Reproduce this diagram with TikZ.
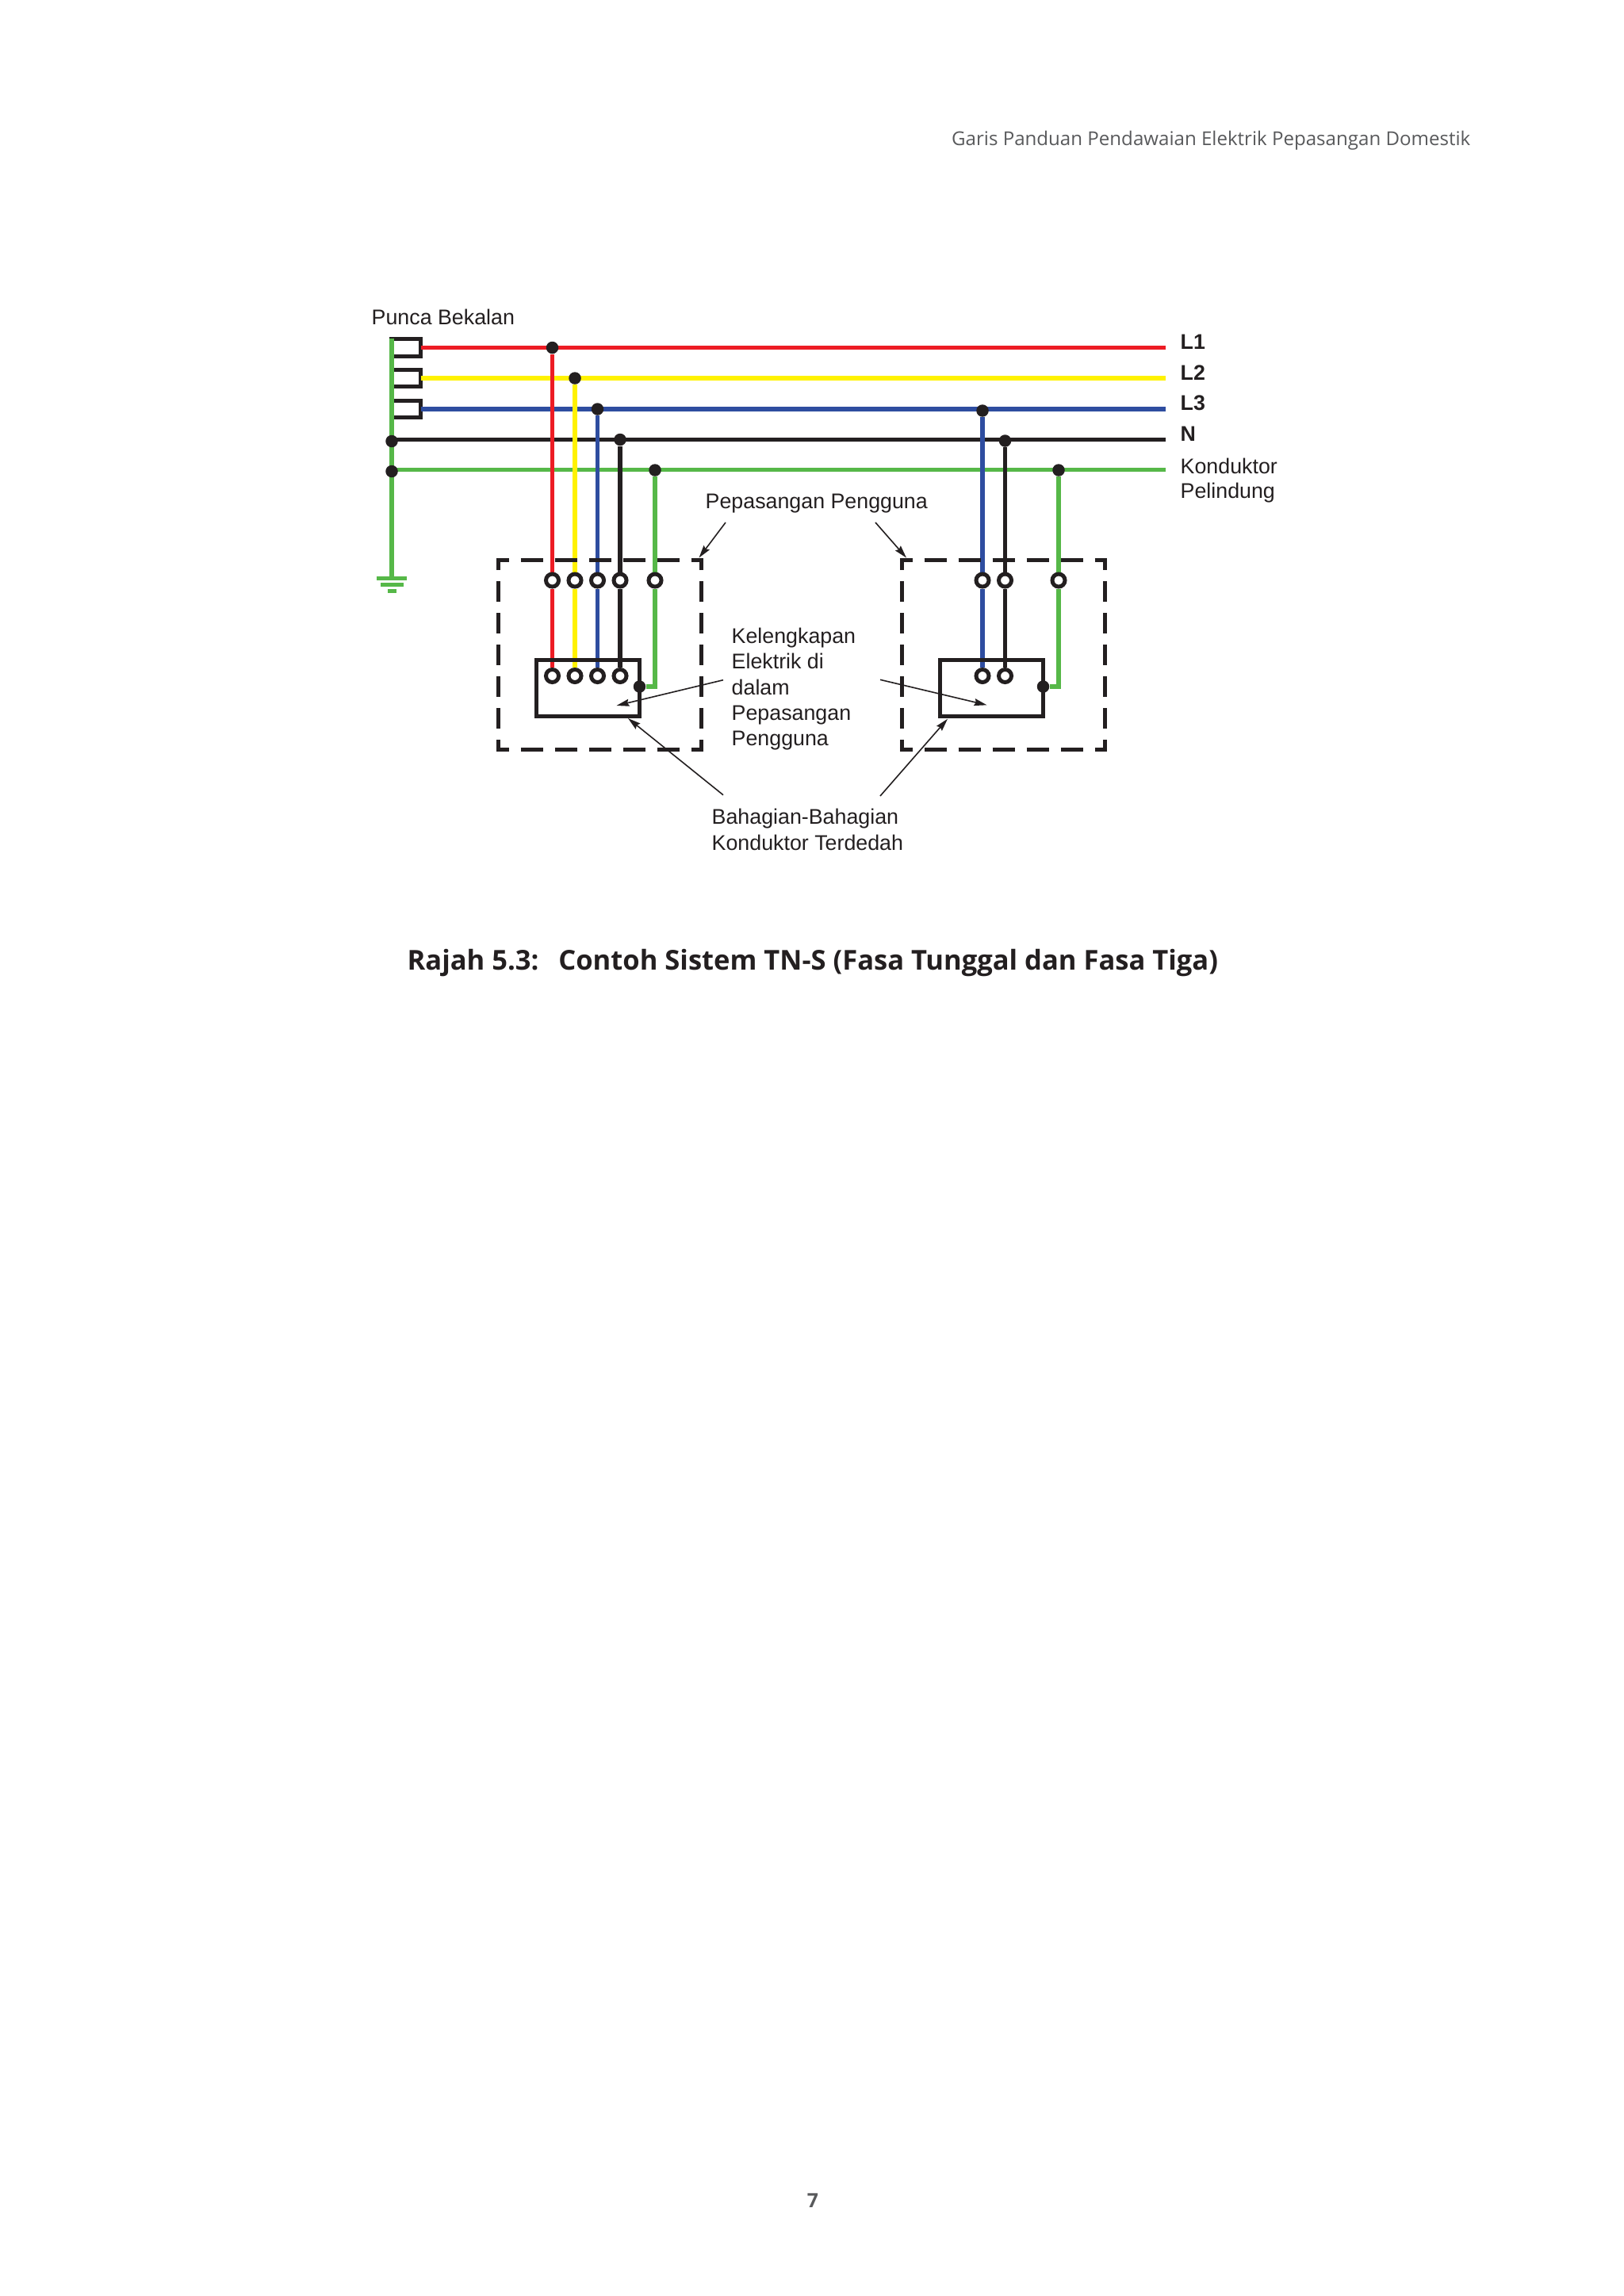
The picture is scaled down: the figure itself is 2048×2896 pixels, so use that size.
\documentclass[tikz,border=0pt]{standalone}
\usepackage{fontspec}
\setmainfont{Liberation Sans}
\newfontfamily\pagefont{Open Sans}
\usetikzlibrary{arrows.meta,backgrounds}
\definecolor{wirered}{HTML}{ED1C24}
\definecolor{wireyellow}{HTML}{FFF200}
\definecolor{wireblue}{HTML}{2E4DA0}
\definecolor{wiregreen}{HTML}{56B848}
\definecolor{inkblack}{HTML}{231F20}
\definecolor{pagegrey}{HTML}{58595B}
\tikzset{
	wire/.style={line width=0.052cm},
	dot/.style={circle,fill=inkblack,inner sep=0pt,minimum size=0.155cm},
	ring/.style={circle,draw=inkblack,fill=white,line width=0.05cm,inner sep=0pt,minimum size=0.16cm},
	fusebox/.style={draw=inkblack,line width=0.05cm,inner sep=0pt,outer sep=0pt,minimum width=0.37cm,minimum height=0.215cm},
	equipbox/.style={draw=inkblack,line width=0.052cm,inner sep=0pt,outer sep=0pt,minimum width=1.30cm,minimum height=0.71cm},
	frametop/.style={draw=inkblack,line width=0.054cm,dash pattern=on 0.285cm off 0.145cm,dash phase=0.1225cm},
	frameside/.style={draw=inkblack,line width=0.054cm,dash pattern=on 0.26cm off 0.14cm,dash phase=0.1075cm},
	earthbar/.style={wiregreen,line width=0.05cm},
	pointer/.style={inkblack,line width=0.016cm,-{Stealth[length=0.16cm,width=0.09cm,inset=0.02cm]}},
	lbl/.style={font=\fontsize{7.62pt}{9.22pt}\selectfont,text=inkblack,inner sep=0pt,anchor=base west},
	lblbold/.style={lbl,font=\fontsize{7.62pt}{9.22pt}\selectfont\bfseries},
}
\begin{document}
\begin{tikzpicture}[x=0.01cm,y=-0.01cm]
	\useasboundingbox (0,0) rectangle (2048,2896);

	\coordinate (busTop) at (494,426.5);
	\coordinate (earth) at (494,727);
	\coordinate (startN) at (494,554.5);
	\coordinate (startPE) at (494,592.5);
	\coordinate (endL1) at (1470,438.5);
	\coordinate (endL2) at (1470,477);
	\coordinate (endL3) at (1470,516);
	\coordinate (endN) at (1470,554.5);
	\coordinate (endPE) at (1470,592.5);
	\coordinate (bendA) at (826,866);
	\coordinate (bendB) at (1335,866);

	\node[dot] (dotN) at (494,556.5) {};
	\node[dot] (dotPE) at (494,594.5) {};
	\node[dot] (dotA1) at (696.5,438.5) {};
	\node[dot] (dotA2) at (725,477) {};
	\node[dot] (dotA3) at (753.5,516) {};
	\node[dot] (dotAN) at (782,554.5) {};
	\node[dot] (dotAE) at (826,593) {};
	\node[dot] (dotB3) at (1239,518) {};
	\node[dot] (dotBN) at (1267.5,556) {};
	\node[dot] (dotBE) at (1335,593) {};

	\node[equipbox] (equipA) at (741.5,868) {};
	\node[equipbox] (equipB) at (1250.5,868) {};

	\node[ring] (ringA1) at (696.5,732) {};
	\node[ring] (ringA2) at (725,732) {};
	\node[ring] (ringA3) at (753.5,732) {};
	\node[ring] (ringAN) at (782,732) {};
	\node[ring] (ringAE) at (826,732) {};
	\node[ring] (ringB3) at (1239,732) {};
	\node[ring] (ringBN) at (1267.5,732) {};
	\node[ring] (ringBE) at (1335,732) {};
	\node[ring] (termA1) at (696.5,852.5) {};
	\node[ring] (termA2) at (725,852.5) {};
	\node[ring] (termA3) at (753.5,852.5) {};
	\node[ring] (termAN) at (782,852.5) {};
	\node[ring] (termB3) at (1239,852.5) {};
	\node[ring] (termBN) at (1267.5,852.5) {};
	\node[dot] (dotEqA) at (806.5,866) {};
	\node[dot] (dotEqB) at (1315.5,866) {};

	\begin{scope}[on background layer]
		\node[fusebox] (fuseA) at (512,438.5) {};
		\node[fusebox] (fuseB) at (512,477) {};
		\node[fusebox] (fuseC) at (512,516) {};

		\draw[wire,wirered] (fuseA.east) -- (endL1);
		\draw[wire,wireyellow] (fuseB.east) -- (endL2);
		\draw[wire,wireblue] (fuseC.east) -- (endL3);
		\draw[wire,inkblack] (startN) -- (endN);
		\draw[wire,wiregreen] (startPE) -- (endPE);
		\draw[wire,wiregreen] (busTop) -- (earth);

		\draw[wire,wirered] (dotA1) -- (ringA1) -- (termA1);
		\draw[wire,wireyellow] (dotA2) -- (ringA2) -- (termA2);
		\draw[wire,wireblue] (dotA3) -- (ringA3) -- (termA3);
		\draw[wire,inkblack] (dotAN) -- (ringAN) -- (termAN);
		\draw[wire,wiregreen,line join=miter] (dotAE) -- (ringAE) -- (bendA) -- (dotEqA);
		\draw[wire,wireblue] (dotB3) -- (ringB3) -- (termB3);
		\draw[wire,inkblack] (dotBN) -- (ringBN) -- (termBN);
		\draw[wire,wiregreen,line join=miter] (dotBE) -- (ringBE) -- (bendB) -- (dotEqB);

		\foreach \ox in {628.5,1137.5} {
			\path[frametop] (\ox-2.7,706.5) -- (\ox+258.7,706.5);
			\path[frametop] (\ox-2.7,945.5) -- (\ox+258.7,945.5);
			\path[frameside] (\ox,703.8) -- (\ox,948.2);
			\path[frameside] (\ox+256,703.8) -- (\ox+256,948.2);
		}
	\end{scope}

	\draw[earthbar] (475,729.5) -- (513,729.5);
	\draw[earthbar] (480,737.5) -- (508.5,737.5);
	\draw[earthbar] (489,745.7) -- (499.5,745.7);

	\node[lbl] (supply) at (468,409) {Punca Bekalan};
	\node[lblbold] (labelL1) at (1488,440) {L1};
	\node[lblbold] (labelL2) at (1488,479) {L2};
	\node[lblbold] (labelL3) at (1488,517) {L3};
	\node[lblbold] (labelN) at (1488,556) {N};
	\node[lbl] (labelPE) at (1488,597) {Konduktor};
	\node[lbl] (labelPE2) at (1488,628) {Pelindung};
	\node[lbl] (premises) at (889,641) {Pepasangan Pengguna};
	\node[lbl] (equipa) at (922,811) {Kelengkapan};
	\node[lbl] (equipb) at (922,843) {Elektrik di};
	\node[lbl] (equipc) at (922,876) {dalam};
	\node[lbl] (equipd) at (922,908) {Pepasangan};
	\node[lbl] (equipe) at (922,940) {Pengguna};
	\node[lbl] (partsa) at (897,1039) {Bahagian-Bahagian};
	\node[lbl] (partsb) at (897,1072) {Konduktor Terdedah};

	\coordinate (premA) at (915,659);
	\coordinate (premB) at (1104,659);
	\coordinate (premTipA) at (881.5,703.5);
	\coordinate (premTipB) at (1143,703.5);
	\coordinate (equipFromA) at (912,857.7);
	\coordinate (equipFromB) at (1110,857.3);
	\coordinate (equipTipA) at (777.5,890);
	\coordinate (equipTipB) at (1244.5,889.3);
	\coordinate (partsFromA) at (912,1002.7);
	\coordinate (partsFromB) at (1110,1004);
	\coordinate (partsTipA) at (792,906);
	\coordinate (partsTipB) at (1195,906.7);
	\draw[pointer] (premA) -- (premTipA);
	\draw[pointer] (premB) -- (premTipB);
	\draw[pointer] (equipFromA) -- (equipTipA);
	\draw[pointer] (equipFromB) -- (equipTipB);
	\draw[pointer] (partsFromA) -- (partsTipA);
	\draw[pointer] (partsFromB) -- (partsTipB);

	\node[font=\pagefont\fontsize{6.85pt}{9pt}\selectfont,text=pagegrey,inner sep=0pt,anchor=base east] (header) at (1855,183.5) {Garis Panduan Pendawaian Elektrik Pepasangan Domestik};
	\node[font=\pagefont\bfseries\fontsize{9.82pt}{12pt}\selectfont,text=inkblack,inner sep=0pt,anchor=base west] (caption) at (513,1223) {Rajah 5.3:\hspace{0.72em}Contoh Sistem TN-S (Fasa Tunggal dan Fasa Tiga)};
	\node[font=\pagefont\bfseries\fontsize{7.05pt}{9pt}\selectfont,text=pagegrey,inner sep=0pt,anchor=base] (pagenum) at (1025,2784) {7};
\end{tikzpicture}
\end{document}
